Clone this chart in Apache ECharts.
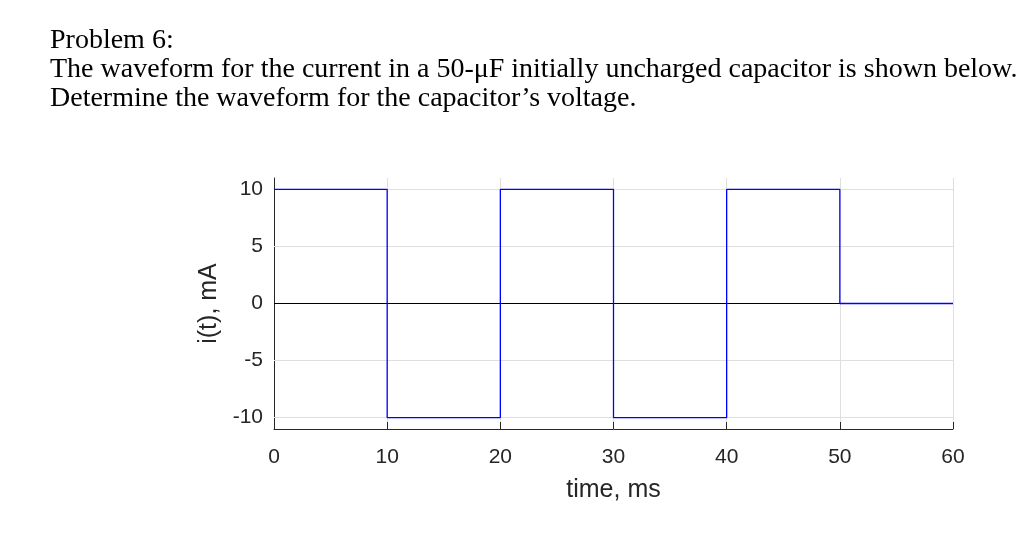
<!DOCTYPE html>
<html>
<head>
<meta charset="utf-8">
<script src="https://cdn.jsdelivr.net/npm/echarts@6/dist/echarts.min.js"></script>
<style>html,body{margin:0;padding:0;background:#fff;}#c{width:1024px;height:534px;}</style>
</head>
<body>
<div id="c"></div>
<script>
const textLines = [
  'Problem 6:',
  'The waveform for the current in a 50-\u03bcF initially uncharged capacitor is shown below.',
  'Determine the waveform for the capacitor\u2019s voltage.'
];
const timeMs = [0, 10, 20, 30, 40, 50, 60];
const currentMA = [10, -10, 10, -10, 10, 0, 0];
const yTicks = [-10, -5, 0, 5, 10];
const xTicks = [0, 10, 20, 30, 40, 50, 60];

const chart = echarts.init(document.getElementById('c'));
const axisColor = '#262626';
const gridColor = '#dfdfdf';
const sans = 'Liberation Sans, Arial, sans-serif';

const hGrid = yTicks.filter(v => v !== 0).map(v => ({ yAxis: v, lineStyle: { color: gridColor, width: 1, type: 'solid' } }));
hGrid.push({ yAxis: 0, lineStyle: { color: '#000', width: 1, type: 'solid' } });

chart.setOption({
  animation: false,
  backgroundColor: '#fff',
  grid: { left: 274, right: 71, top: 178, bottom: 105, containLabel: false },
  xAxis: {
    type: 'value', min: 0, max: 60, interval: 10,
    name: 'time, ms', nameLocation: 'middle', nameGap: 49,
    nameTextStyle: { fontFamily: sans, fontSize: 25, color: axisColor },
    axisLine: { show: true, onZero: false, lineStyle: { color: axisColor, width: 1 } },
    axisTick: { show: true, inside: true, length: 7, lineStyle: { color: axisColor } },
    axisLabel: { fontFamily: sans, fontSize: 21, color: axisColor, margin: 18 },
    splitLine: { show: true, lineStyle: { color: gridColor, width: 1 } }
  },
  yAxis: {
    type: 'value', min: -11, max: 11,
    name: 'i(t), mA', nameLocation: 'middle', nameGap: 48, nameRotate: 90,
    nameTextStyle: { fontFamily: sans, fontSize: 25, color: axisColor },
    axisLine: { show: true, onZero: false, lineStyle: { color: axisColor, width: 1 } },
    axisTick: { show: true, inside: true, length: 7, customValues: yTicks, lineStyle: { color: axisColor } },
    axisLabel: { fontFamily: sans, fontSize: 21, color: axisColor, margin: 11, customValues: yTicks },
    splitLine: { show: false }
  },
  graphic: textLines.map((t, i) => ({
    type: 'text', left: 50, top: 27 + i * 29,
    style: { text: t, font: '28px "Liberation Serif", "Times New Roman", serif', fill: '#000' }
  })),
  series: [
    {
      type: 'line', data: [], silent: true, z: 1,
      markLine: { silent: true, symbol: 'none', label: { show: false }, data: hGrid, animation: false }
    },
    {
      type: 'line', step: 'end', z: 5,
      data: timeMs.map((t, i) => [t, currentMA[i]]),
      showSymbol: false, symbol: 'none',
      lineStyle: { color: '#0000ff', width: 1.3 }
    }
  ]
});
</script>
</body>
</html>
